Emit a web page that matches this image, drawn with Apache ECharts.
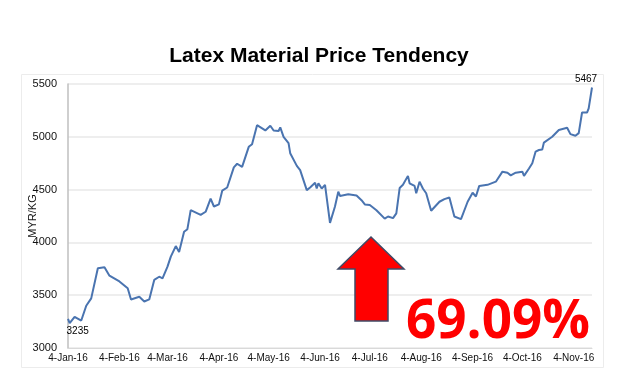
<!DOCTYPE html>
<html>
<head>
<meta charset="utf-8">
<script src="https://cdn.jsdelivr.net/npm/echarts@6/dist/echarts.min.js"></script>
<style>html,body{margin:0;padding:0;background:#fff}#c{width:640px;height:379px}</style>
</head>
<body>
<div id="c"></div>
<script>
// Day offsets from 4-Jan-16 and the latex price (MYR/KG)
const days = [0,1,4,8,11,14,18,22,25,31,36,38,43,46,49,52,55,57,60,62,65,67,70,72,74,
  80,83,86,88,91,93,96,100,102,105,109,111,114,119,122,124,127,128,130,133,134,138,140,
  144,146,149,150,151,153,155,158,161,163,164,169,174,177,179,182,186,191,193,196,198,
  200,202,205,206,209,210,212,214,216,219,224,227,230,233,237,241,244,246,248,253,254,
  258,262,265,267,270,274,275,278,280,282,284,286,287,288,292,296,301,302,303,306,308,
  310,313,314,316];
const prices = [3275,3235,3295,3260,3400,3470,3755,3765,3685,3630,3565,3460,3485,3440,3460,3645,3675,3660,3770,3865,3965,3910,4100,4125,4305,
  4260,4290,4415,4340,4360,4490,4520,4710,4745,4715,4905,4930,5110,5060,5105,5060,5055,5090,5000,4940,4845,4725,4685,
  4495,4520,4565,4510,4560,4510,4545,4185,4340,4480,4440,4455,4445,4400,4360,4355,4305,4225,4245,4230,4275,
  4515,4545,4630,4560,4535,4465,4575,4510,4465,4300,4385,4410,4425,4245,4220,4385,4470,4435,4535,4545,4535,
  4575,4670,4660,4635,4660,4670,4630,4700,4750,4860,4875,4880,4945,4955,5000,5065,5085,5080,5025,5010,5035,
  5230,5230,5270,5467];
const tickDays = [0,31,60,91,121,152,182,213,244,274,305];
const tickLabels = ['4-Jan-16','4-Feb-16','4-Mar-16','4-Apr-16','4-May-16','4-Jun-16','4-Jul-16','4-Aug-16','4-Sep-16','4-Oct-16','4-Nov-16'];
const yTicks = [3000,3500,4000,4500,5000,5500];
const titleText = 'Latex Material Price Tendency';
const yName = 'MYR/KG';
const changeText = '69.09%';

const minIdx = prices.indexOf(Math.min(...prices));
const lastIdx = prices.length - 1;
const seriesData = days.map((d, i) => {
  const item = { value: [d, prices[i]] };
  if (i === minIdx) {
    item.symbol = 'circle'; item.symbolSize = 0;
    item.label = { show: true, position: 'bottom', distance: 3, offset: [8, 0] };
  } else if (i === lastIdx) {
    item.symbol = 'circle'; item.symbolSize = 0;
    item.label = { show: true, position: 'top', distance: 3, offset: [-6, 0] };
  }
  return item;
});

const chart = echarts.init(document.getElementById('c'), null, { renderer: 'canvas' });
chart.setOption({
  animation: false,
  backgroundColor: '#ffffff',
  title: {
    text: titleText,
    left: 314,
    top: 41,
    textAlign: 'center',
    textStyle: { fontFamily: 'Liberation Sans', fontWeight: 'bold', fontSize: 21, color: '#000' }
  },
  grid: { left: 68, right: 48, top: 84, bottom: 31, containLabel: false },
  xAxis: {
    type: 'value',
    min: 0,
    max: 316,
    axisLine: { show: true, lineStyle: { color: '#d9d9d9', width: 1 } },
    axisTick: { show: false },
    splitLine: { show: false },
    axisLabel: {
      customValues: tickDays,
      formatter: v => tickLabels[tickDays.indexOf(v)] || '',
      fontFamily: 'Liberation Sans', fontSize: 10, color: '#111', margin: 5
    }
  },
  yAxis: {
    type: 'value',
    min: yTicks[0],
    max: yTicks[yTicks.length - 1],
    interval: 500,
    name: yName,
    nameLocation: 'middle',
    nameGap: 30,
    nameMoveOverlap: false,
    nameTextStyle: { fontFamily: 'Liberation Sans', fontSize: 11, color: '#111' },
    axisLine: { show: true, lineStyle: { color: '#bfbfbf', width: 1.5 } },
    axisTick: { show: false },
    splitLine: { show: true, lineStyle: { color: '#e8e8e8', width: 1.5 } },
    axisLabel: { formatter: v => String(v), fontFamily: 'Liberation Sans', fontSize: 11, color: '#111', margin: 11 }
  },
  graphic: [
    {
      type: 'rect', silent: true, z: -1,
      shape: { x: 21.5, y: 74.5, width: 582, height: 293 },
      style: { fill: 'none', stroke: '#ececec', lineWidth: 1 }
    },
    {
      type: 'polygon', z: 10,
      shape: { points: [[371, 237], [404, 269], [388, 269], [388, 321], [355, 321], [355, 269], [338, 269]] },
      style: { fill: '#ff0000', stroke: '#404a66', lineWidth: 1.5 }
    },
    {
      type: 'text', z: 10,
      x: 406, y: 323,
      style: {
        text: changeText,
        fill: '#ff0000',
        font: 'bold 53px "Open Sans"',
        textVerticalAlign: 'middle'
      }
    }
  ],
  series: [{
    type: 'line',
    data: seriesData,
    symbol: 'none',
    smooth: false,
    lineStyle: { color: '#4a74b0', width: 2 },
    label: { show: false, fontFamily: 'Liberation Sans', fontSize: 10, color: '#000' }
  }]
});
</script>
</body>
</html>
